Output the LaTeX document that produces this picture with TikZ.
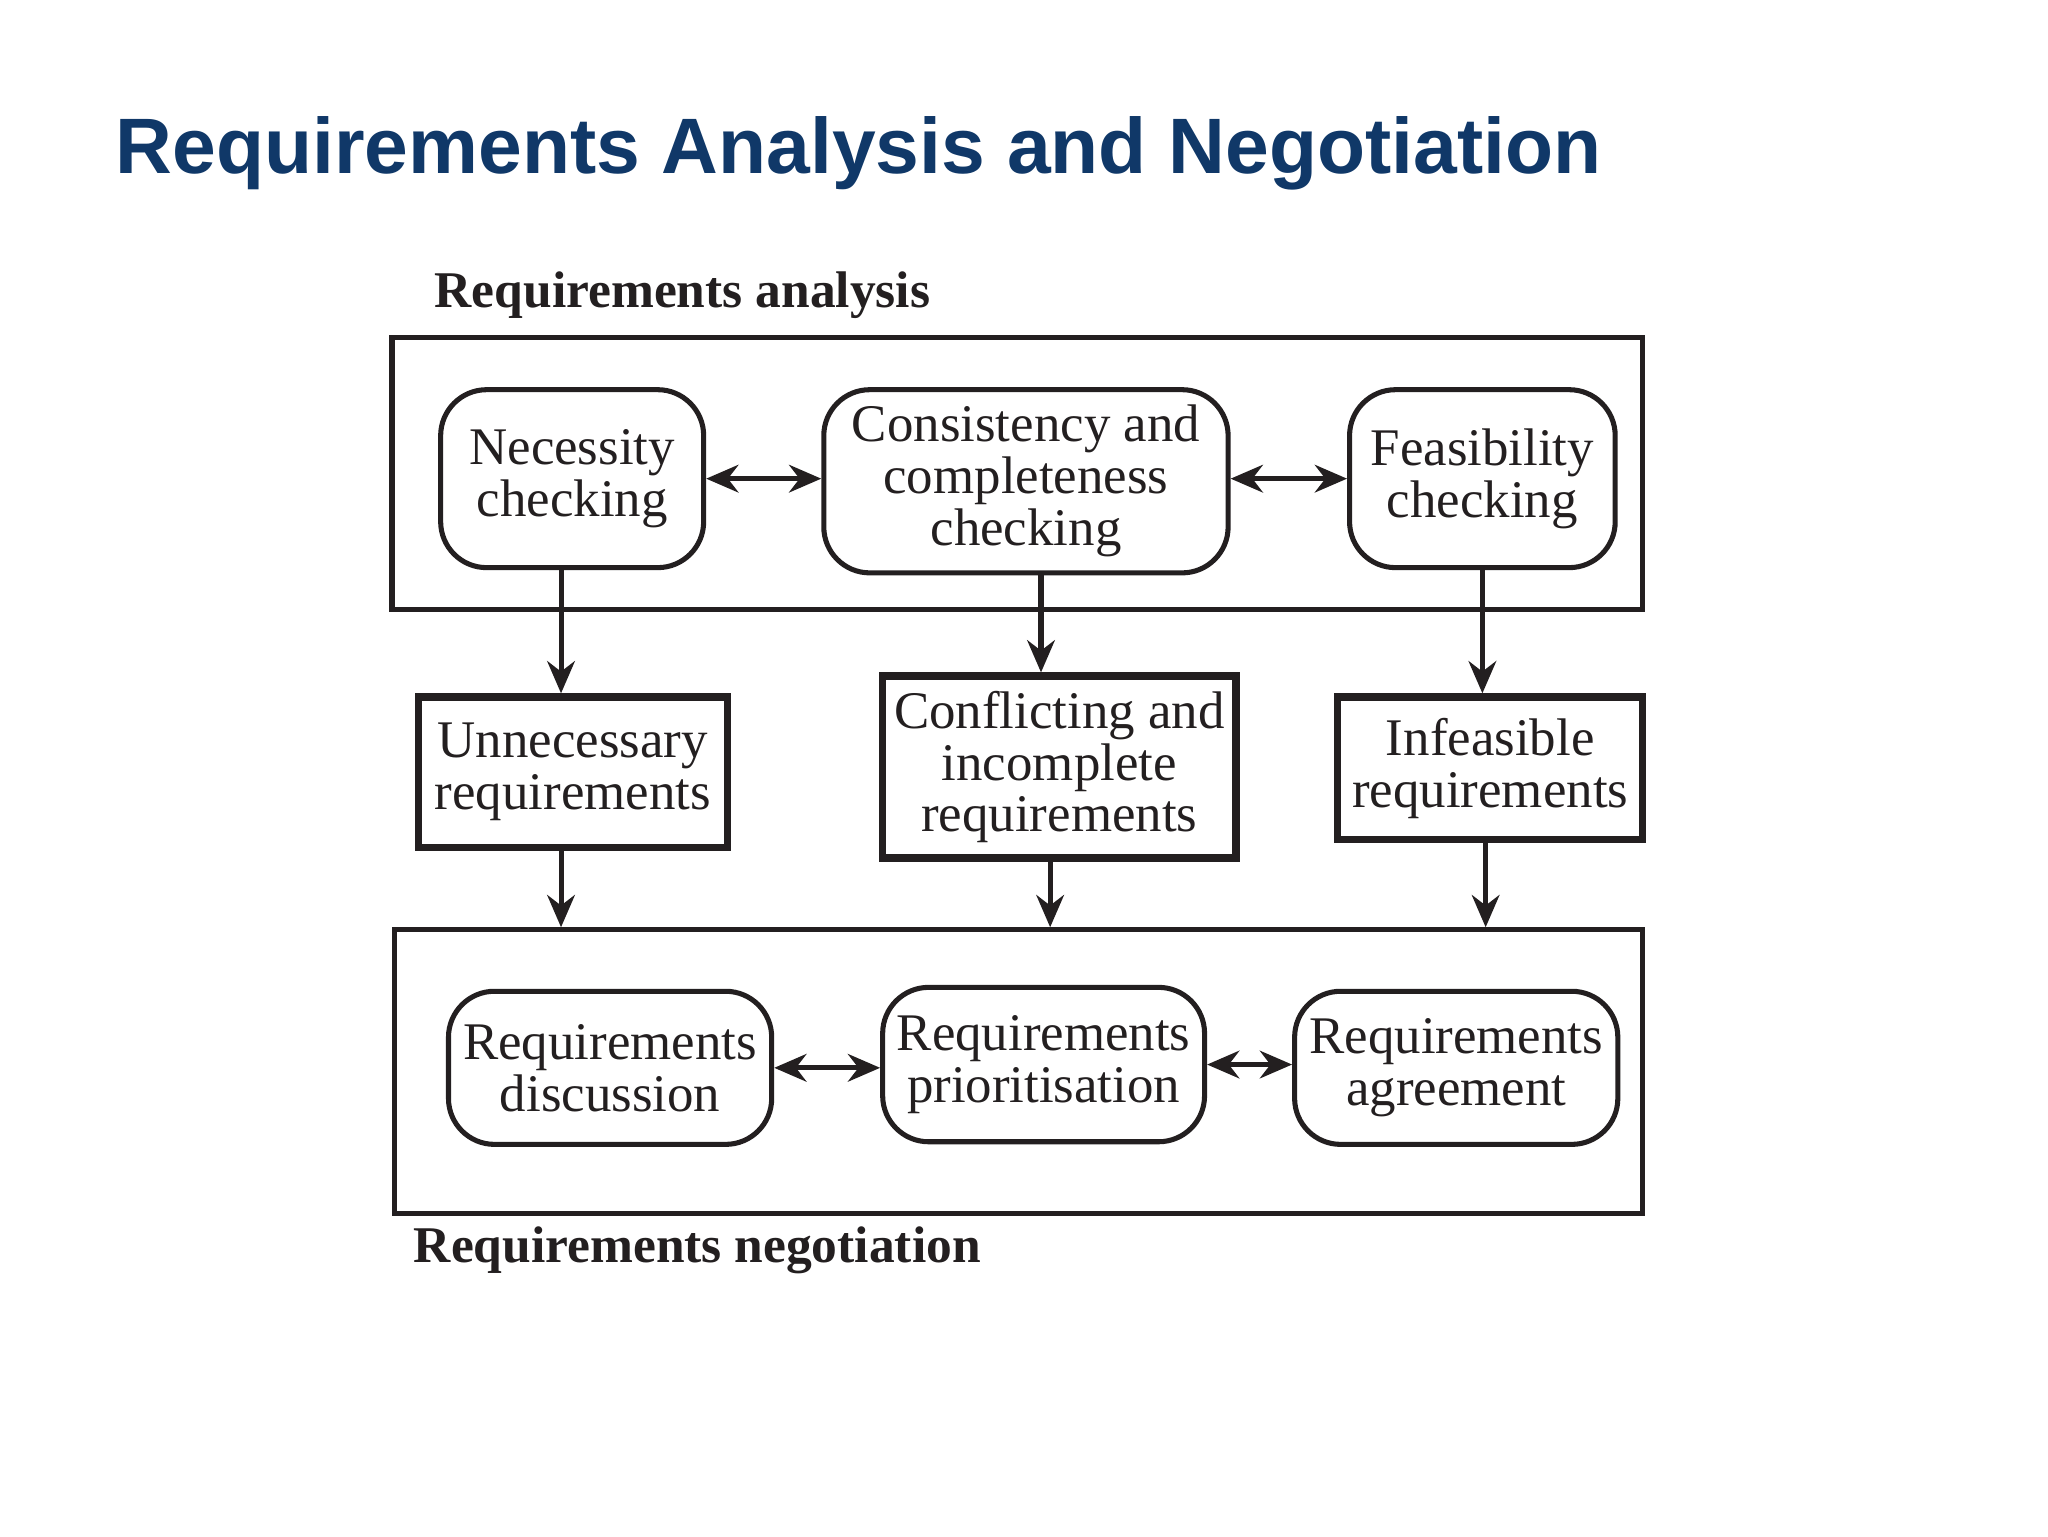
\documentclass[tikz,border=0pt]{standalone}
\usepackage{fontspec}
\setmainfont{Liberation Serif}
\newfontfamily\titlefont{Liberation Sans}
\usetikzlibrary{arrows.meta}
\definecolor{navy}{RGB}{16,56,104}
\definecolor{ink}{RGB}{35,31,32}
\tikzset{
  rbox/.style={draw=ink,line width=1.1pt,rounded corners=10pt,inner sep=0pt,align=center,font=\fontsize{11.5}{11.3}\selectfont,text=ink},
  tbox/.style={draw=ink,line width=1.6pt,inner sep=0pt,align=center,font=\fontsize{11.5}{11.3}\selectfont,text=ink},
  frame/.style={draw=ink,line width=1.1pt},
  arr/.style={draw=ink,line width=1.1pt,-{Stealth[length=7pt,width=6pt]}},
  darr/.style={draw=ink,line width=1.1pt,{Stealth[length=7pt,width=6pt]}-{Stealth[length=7pt,width=6pt]}},
}
\begin{document}
\begin{tikzpicture}[x=0.01cm,y=-0.01cm]
\useasboundingbox (0,0) rectangle (1566,1175);
\node[anchor=west,font=\titlefont\bfseries\fontsize{17.1}{20}\selectfont,text=navy] (title) at (76,117) {Requirements Analysis and Negotiation};
\node[anchor=west,font=\bfseries\fontsize{11.2}{13}\selectfont,text=ink] (lab1) at (320,226) {Requirements analysis};
\node[anchor=west,font=\bfseries\fontsize{11.2}{13}\selectfont,text=ink] (lab2) at (304,956) {Requirements negotiation};
\node[frame,minimum width=9.56cm,minimum height=2.08cm,inner sep=0pt] (top) at (778,362) {};
\node[frame,minimum width=9.54cm,minimum height=2.17cm,inner sep=0pt] (bot) at (779,819.5) {};
\node[rbox,minimum width=2.01cm,minimum height=1.36cm] (nec) at (437.5,366) {Necessity\\checking};
\node[rbox,minimum width=3.09cm,minimum height=1.40cm] (con) at (784.5,368) {Consistency and\\completeness\\checking};
\node[rbox,minimum width=2.03cm,minimum height=1.36cm] (fea) at (1133.5,366) {Feasibility\\checking};
\node[tbox,minimum width=2.36cm,minimum height=1.15cm] (unn) at (438,590.5) {Unnecessary\\requirements};
\node[tbox,minimum width=2.70cm,minimum height=1.39cm] (cfl) at (810,586.5) {Conflicting and\\incomplete\\requirements};
\node[tbox,minimum width=2.33cm,minimum height=1.09cm] (inf) at (1139.5,587.5) {Infeasible\\requirements};
\node[rbox,minimum width=2.47cm,minimum height=1.17cm] (dis) at (466.5,816.5) {Requirements\\discussion};
\node[rbox,minimum width=2.46cm,minimum height=1.18cm] (pri) at (798,814) {Requirements\\prioritisation};
\node[rbox,minimum width=2.47cm,minimum height=1.17cm] (agr) at (1113.5,816.5) {Requirements\\agreement};
\draw[darr] (nec.east) -- (con.west |- nec.east);
\draw[darr] (con.east |- fea.west) -- (fea.west);
\draw[darr] (dis.east) -- (pri.west |- dis.east);
\draw[darr] (pri.east) -- (agr.west |- pri.east);
\draw[arr] ([xshift=-0.085cm]nec.south) -- ([xshift=-0.085cm]nec.south |- unn.north);
\draw[arr] ([xshift=0.115cm]con.south) -- ([xshift=0.115cm]con.south |- cfl.north);
\draw[arr] (fea.south) -- (fea.south |- inf.north);
\draw[arr] ([xshift=-0.09cm]unn.south) -- ([xshift=-0.09cm]unn.south |- bot.north);
\draw[arr] ([xshift=-0.07cm]cfl.south) -- ([xshift=-0.07cm]cfl.south |- bot.north);
\draw[arr] ([xshift=-0.035cm]inf.south) -- ([xshift=-0.035cm]inf.south |- bot.north);
\end{tikzpicture}
\end{document}
